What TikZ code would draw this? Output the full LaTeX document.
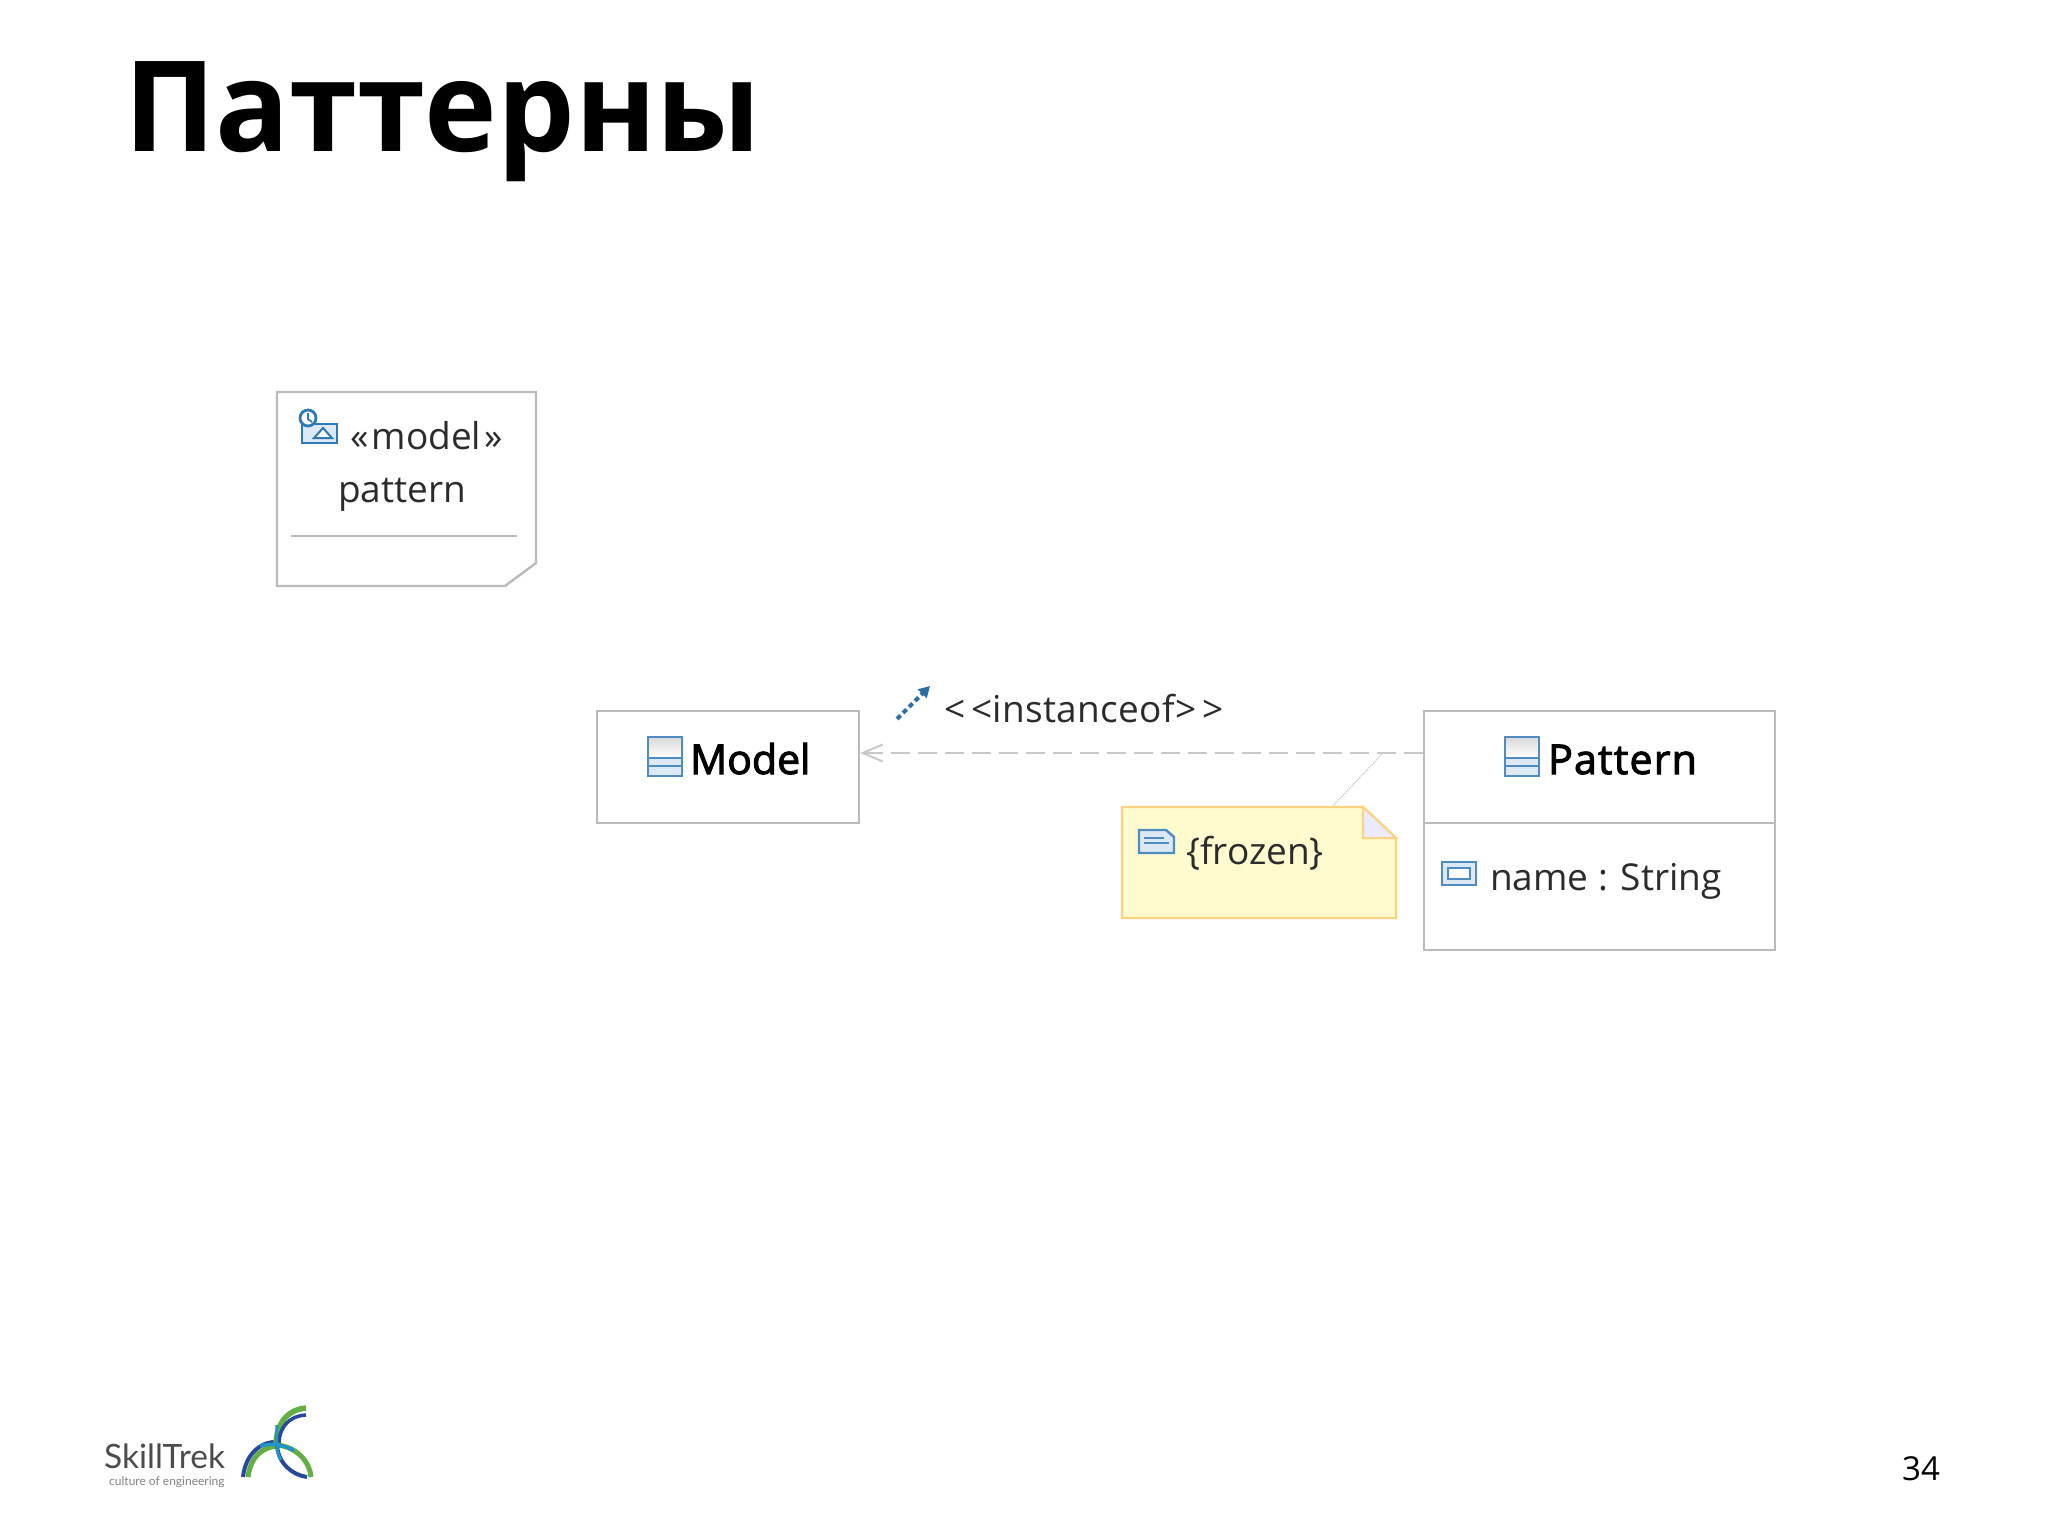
\documentclass[tikz,border=0pt]{standalone}
\usepackage{fontspec}
\setmainfont{Open Sans}
\newfontfamily\titlefont[FakeStretch=0.975]{Open Sans}
\newfontfamily\classfont[FakeBold=2.5]{Open Sans}
\newfontfamily\logofont{Lato}
\usepackage{tikz}
\usetikzlibrary{arrows.meta}
\definecolor{boxline}{HTML}{B9BABC}
\definecolor{iconblue}{HTML}{4F8CC0}
\definecolor{icondeep}{HTML}{2F79B5}
\definecolor{depblue}{HTML}{2D6DA3}
\definecolor{iconfill}{HTML}{DCE9F5}
\definecolor{noteline}{HTML}{FBD27F}
\definecolor{notefill}{HTML}{FFFBCF}
\definecolor{uitext}{HTML}{2B2B2B}
\definecolor{logogreen}{HTML}{63AE45}
\definecolor{logoblue}{HTML}{27489C}
\definecolor{logocyan}{HTML}{1E94C9}
\tikzset{
  umlbox/.style={draw=boxline,line width=2.4pt,fill=white,inner sep=0},
  umltext/.style={anchor=base west,inner sep=0,text=uitext,font=\fontsize{37}{37}\selectfont},
  classname/.style={anchor=base west,inner sep=0,text=black,font=\fontsize{41}{41}\classfont},
  iconline/.style={draw=iconblue,line width=2.4pt},
  classicon/.pic={
    \draw[iconline,top color=gray!30,bottom color=white] (0,0) rectangle (34,21);
    \draw[iconline,fill=iconfill] (0,21) rectangle (34,29);
    \draw[iconline,fill=iconfill] (0,29) rectangle (34,39);
  },
}
\begin{document}
\begin{tikzpicture}[x=1pt,y=-1pt]
        \useasboundingbox (0,0) rectangle (2048,1536);
        \node[anchor=base west,inner sep=0,font=\fontsize{126}{126}\titlefont\bfseries] (title) at (124,152) {Паттерны};
        % package
        \draw[umlbox] (277,392) -- (536,392) -- (536,563) -- (505,586) -- (277,586) -- cycle;
        \draw[boxline,line width=2pt] (291,536) -- (517,536);
        \draw[icondeep,fill=iconfill,line width=2.8pt] (302,424) rectangle (337,443);
        \draw[icondeep,fill=white,line width=2pt] (323,428) -- (332,438) -- (314,438) -- cycle;
        \draw[icondeep,fill=white,line width=2.8pt] (308,418) circle (8);
        \draw[icondeep,line width=1.8pt] (308,413) -- (308,419) -- (312,422);
        \node[umltext] (modelstereo) at (350,449) {«\kern3pt model\kern3pt»};
        \node[umltext] (modelname) at (338,502) {pattern};
        % classes
        \node[umlbox,minimum width=262pt,minimum height=112pt] (modelbox) at (728,767) {};
        \node[umlbox,minimum width=351pt,minimum height=239pt] (patternbox) at (1599.5,830.5) {};
        \draw[boxline,line width=2.4pt] (patternbox.west |- 0,823) -- (patternbox.east |- 0,823);
        \pic at (648,737) {classicon};
        \pic at (1505,737) {classicon};
        \node[classname] (modellabel) at (690,774) {Model};
        \node[classname] (patternlabel) at (1548,774) {\addfontfeatures{LetterSpace=3}Pattern};
        \draw[iconline,fill=iconfill] (1442,862) rectangle (1476,885);
        \draw[iconline,fill=white] (1448,868) rectangle (1470,879);
        \node[umltext] (attrlabel) at (1490,890) {name : String};
        % note
        \node[draw=none,inner sep=0] (noteanchor) at (1332,807) {};
        \draw[draw=noteline,fill=notefill,line width=2.4pt] (1122,807) -- (1363,807) -- (1396,838) -- (1396,918) -- (1122,918) -- cycle;
        \draw[draw=noteline,fill=black!10!blue!8,line width=2pt] (1363,807) -- (1396,838) -- (1363,838) -- cycle;
        \draw[iconline,fill=iconfill] (1139,830) -- (1166,830) -- (1174,837) -- (1174,853) -- (1139,853) -- cycle;
        \draw[iconline,line width=1.8pt] (1144,838) -- (1164,838) (1144,843) -- (1169,843);
        \node[umltext] (frozenlabel) at (1186,864) {\{frozen\}};
        % dependency
        \coordinate (branch) at (1383,753);
        \draw[boxline!80,line width=2.6pt,dash pattern=on 19pt off 8pt,-{Straight Barb[length=20pt,width=17pt,line width=2pt]}] (patternbox.west |- branch) -- (modelbox.east |- branch);
        \draw[boxline!80,line width=1.2pt,densely dotted] (branch) -- (noteanchor);
        \coordinate (depfrom) at (897,719);
        \coordinate (depto) at (930,686);
        \draw[depblue,line width=4pt,dash pattern=on 5pt off 3.5pt,-{Triangle[length=11pt,width=12pt]}] (depfrom) -- (depto);
        \node[umltext] (deplabel) at (944,722) {<\kern6pt<{\addfontfeatures{LetterSpace=1}instanceof}>\kern6pt>};
        % logo
        \node[anchor=base west,inner sep=0,text=black!70,font=\fontsize{33.5}{33.5}\logofont] (logoname) at (104,1468) {SkillTrek};
        \node[anchor=base west,inner sep=0,text=black!50,font=\fontsize{12}{12}\logofont] (logosub) at (109,1485) {culture of engineering};
        \draw[logogreen,line width=5pt] (248,1477) .. controls (251,1454) and (265,1447) .. (277,1446);
        \draw[logoblue,line width=4pt] (243,1477) .. controls (246,1450) and (265,1441) .. (277,1442);
        \draw[logogreen,line width=5pt] (277,1445) .. controls (298,1447) and (310,1463) .. (311,1477);
        \draw[logoblue,line width=4pt] (277,1445) .. controls (278,1463) and (292,1475) .. (307,1477);
        \draw[logogreen,line width=5.5pt] (276,1445) .. controls (276,1428) and (284,1410) .. (306,1408);
        \draw[logoblue,line width=3.5pt] (279,1443) .. controls (279,1430) and (287,1416) .. (306,1415);
        \draw[logocyan,line width=3.5pt] (260,1446) .. controls (268,1444) and (272,1444) .. (277,1445) .. controls (285,1446) and (290,1448) .. (294,1451);
        \draw[logocyan,line width=3pt] (277,1425) .. controls (277,1432) and (276,1440) .. (277,1445) .. controls (277,1450) and (278,1455) .. (281,1460);
        \node[anchor=base west,inner sep=0,font=\fontsize{33}{33}\selectfont] (pagenum) at (1902,1480) {34};
      \end{tikzpicture}
\end{document}
